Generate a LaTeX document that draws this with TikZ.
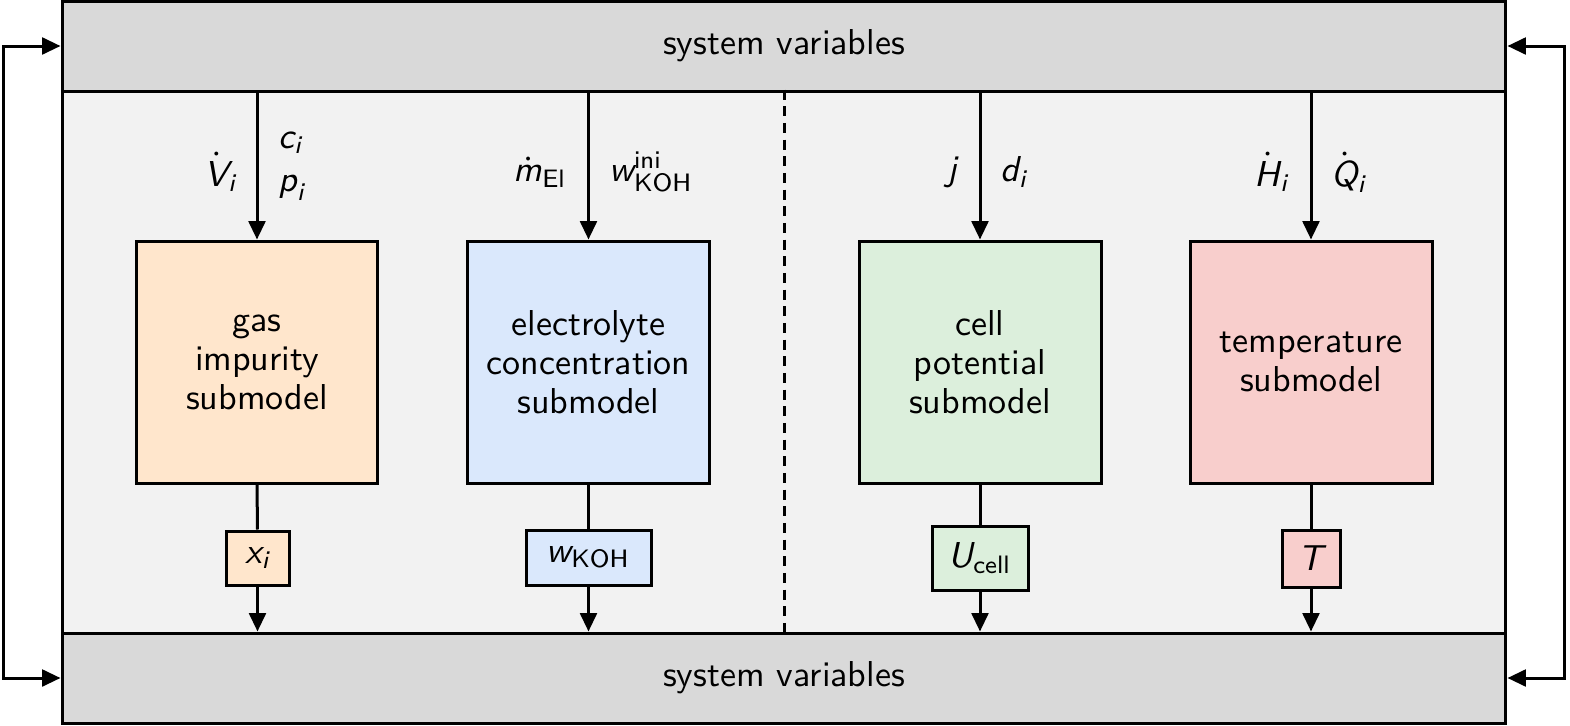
\documentclass[tikz,border=0pt]{standalone}
\usepackage{amsmath}
\usepackage{fontspec}
\usetikzlibrary{arrows.meta}
\definecolor{bandgray}{HTML}{D9D9D9}
\definecolor{midgray}{HTML}{F2F2F2}
\definecolor{orangef}{HTML}{FFE6CC}
\definecolor{bluef}{HTML}{DAE8FC}
\definecolor{greenf}{HTML}{DCEFDC}
\definecolor{redf}{HTML}{F8CECC}
\newcommand{\vx}[1]{\textit{#1}}
\begin{document}
\begin{tikzpicture}[x=0.3pt,y=-0.3pt,
  font=\sffamily\fontsize{10.8pt}{11.7pt}\selectfont,
  line width=0.9pt,
  >={Triangle[length=5.5pt,width=5pt]},
  band/.style={draw,fill=bandgray,minimum width=433.2pt,minimum height=27pt,inner sep=0pt},
  midarea/.style={draw,fill=midgray,minimum width=433.2pt,minimum height=162.6pt,inner sep=0pt},
  subm/.style={draw,minimum width=72.6pt,minimum height=72.6pt,align=center,inner sep=0pt},
  outb/.style={draw,inner sep=0pt},
  lab/.style={inner sep=0pt,align=left}]
\useasboundingbox (0,0) rectangle (1570,726);
\node[midarea] (mid) at (784,362) {};
\node[band] (top) at (784,46) {system variables};
\node[band] (bot) at (784,678) {system variables};
\draw[dashed,dash pattern=on 3pt off 2pt] (mid.north) -- (mid.south);
% feedback loops
\draw[<->] (top.west) -- ++(-57,0) |- (bot.west);
\draw[<->] (top.east) -- ++(57,0) |- (bot.east);
% submodels
\node[subm,fill=orangef] (gas) at (257,362) {gas\\impurity\\submodel};
\node[subm,fill=bluef] (ele) at (588.5,362) {electrolyte\\concentration\\submodel};
\node[subm,fill=greenf] (cel) at (980,362) {cell\\potential\\submodel};
\node[subm,fill=redf] (tem) at (1311,362) {temperature\\submodel};
% outputs
\node[outb,fill=orangef,minimum width=18.9pt,minimum height=16.2pt] (ox) at (257.5,558) {$\vx{x}_{\vx{i}}$};
\node[outb,fill=bluef,minimum width=37.5pt,minimum height=16.5pt] (ow) at (588.5,557.5) {$\vx{w}_{\text{KOH}}$};
\node[outb,fill=greenf,minimum width=28.8pt,minimum height=19.2pt] (ou) at (980,558) {$\vx{U}_{\text{cell}}$};
\node[outb,fill=redf,minimum width=17.4pt,minimum height=17.1pt] (ot) at (1311,558.5) {$\vx{T}$};
% inputs
\foreach \b in {gas,ele,cel,tem}{\draw[->] (top.south -| \b.north) -- (\b.north);}
\foreach \b/\o in {gas/ox,ele/ow,cel/ou,tem/ot}{
  \draw (\b.south) -- (\o.north);
  \draw[->] (\o.south) -- (bot.north -| \o.south);}
% labels
\node[lab,anchor=east] (l1) at (238,172) {$\dot{\vx{V}}_{\vx{i}}$};
\node[lab,anchor=west] (r1) at (277,166) {$\vx{c}_{\vx{i}}$\\[1.2pt]$\vx{p}_{\vx{i}}$};
\node[lab,anchor=east] (l2) at (568,172) {$\dot{\vx{m}}_{\text{El}}$};
\node[lab,anchor=west] (r2) at (608,172) {$\vx{w}^{\text{ini}}_{\text{KOH}}$};
\node[lab,anchor=east] (l3) at (959,172) {$\vx{j}$};
\node[lab,anchor=west] (r3) at (999,172) {$\vx{d}_{\vx{i}}$};
\node[lab,anchor=east] (l4) at (1290,172) {$\dot{\vx{H}}_{\vx{i}}$};
\node[lab,anchor=west] (r4) at (1330,172) {$\dot{\vx{Q}}_{\vx{i}}$};
\end{tikzpicture}
\end{document}
